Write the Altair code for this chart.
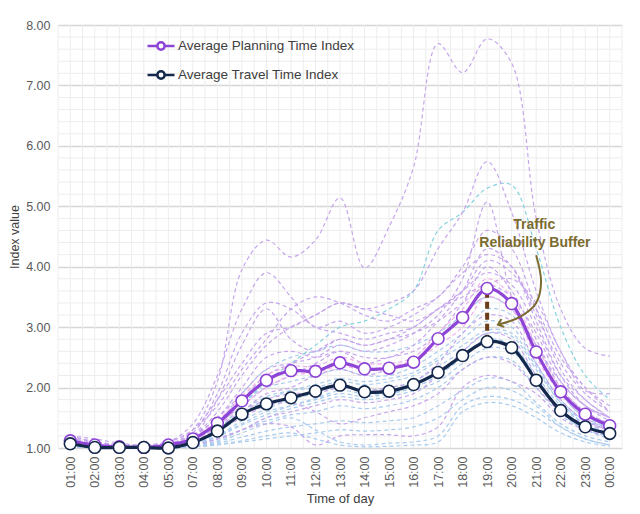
import json

import altair as alt
import pandas as pd

FONT = "Liberation Sans"

hours = ["01:00", "02:00", "03:00", "04:00", "05:00", "07:00", "08:00", "09:00",
         "10:00", "11:00", "12:00", "13:00", "14:00", "15:00", "16:00", "17:00",
         "18:00", "19:00", "20:00", "21:00", "22:00", "23:00", "00:00"]

planning_avg = [1.12, 1.05, 1.02, 1.01, 1.05, 1.15, 1.41, 1.78, 2.12, 2.28, 2.27, 2.41,
                2.31, 2.32, 2.42, 2.81, 3.16, 3.64, 3.39, 2.59, 1.93, 1.56, 1.37]
travel_avg = [1.07, 1.01, 1.01, 1.01, 1.00, 1.09, 1.28, 1.56, 1.73, 1.83, 1.94, 2.04,
              1.93, 1.94, 2.05, 2.25, 2.53, 2.76, 2.66, 2.12, 1.62, 1.35, 1.24]

# individual routes, planning time index (light purple dashes)
route_planning = [
    [1.15, 1.10, 1.05, 1.03, 1.05, 1.30, 2.10, 3.95, 4.44, 4.16, 4.44, 5.14, 3.98, 4.66, 5.65, 7.69, 7.21, 7.77, 7.37, 4.80, 3.30, 2.65, 2.52],
    [1.20, 1.10, 1.05, 1.05, 1.10, 1.30, 1.80, 2.40, 2.90, 3.00, 3.20, 3.40, 3.30, 3.40, 3.60, 4.30, 4.90, 5.74, 4.90, 3.60, 2.60, 2.00, 1.70],
    [1.10, 1.05, 1.02, 1.02, 1.05, 1.20, 1.50, 1.90, 2.30, 2.40, 2.50, 2.70, 2.60, 2.70, 2.90, 3.20, 3.80, 5.07, 3.50, 2.70, 2.10, 1.70, 1.50],
    [1.20, 1.10, 1.05, 1.03, 1.10, 1.40, 2.20, 3.30, 3.90, 3.50, 3.00, 3.10, 2.90, 3.00, 3.20, 3.50, 3.90, 4.20, 4.00, 3.20, 2.40, 1.90, 1.60],
    [1.10, 1.05, 1.02, 1.02, 1.05, 1.20, 1.80, 2.70, 3.30, 2.80, 2.60, 2.80, 2.70, 2.80, 3.00, 3.30, 3.60, 3.90, 3.70, 3.00, 2.20, 1.80, 1.50],
    [1.10, 1.05, 1.03, 1.02, 1.05, 1.20, 1.60, 2.20, 2.70, 3.00, 3.20, 3.40, 3.30, 3.20, 3.10, 3.30, 3.60, 4.10, 3.90, 3.30, 2.50, 2.00, 1.60],
    [1.05, 1.02, 1.01, 1.01, 1.02, 1.10, 1.30, 1.60, 1.90, 2.00, 2.20, 2.30, 2.20, 2.30, 2.40, 2.80, 3.20, 3.50, 3.30, 2.60, 1.90, 1.50, 1.30],
    [1.10, 1.05, 1.02, 1.01, 1.02, 1.05, 1.15, 1.30, 1.40, 1.35, 1.05, 1.20, 1.22, 1.22, 1.20, 1.35, 2.00, 2.20, 2.10, 1.90, 1.50, 1.30, 1.20],
    [1.15, 1.10, 1.05, 1.05, 1.08, 1.20, 1.40, 1.70, 2.00, 2.20, 2.40, 2.60, 2.50, 2.50, 2.70, 3.10, 3.60, 4.30, 4.00, 3.10, 2.20, 1.70, 1.45],
    [1.10, 1.08, 1.04, 1.03, 1.05, 1.15, 1.35, 1.60, 1.80, 1.90, 1.90, 2.00, 1.95, 2.00, 2.10, 2.40, 2.90, 3.20, 3.10, 2.40, 1.80, 1.45, 1.30],
    [1.20, 1.15, 1.08, 1.05, 1.10, 1.30, 1.70, 2.30, 2.80, 3.30, 3.50, 3.40, 3.20, 3.10, 3.30, 3.50, 4.00, 4.60, 4.30, 3.30, 2.30, 1.80, 1.50],
    [1.05, 1.03, 1.02, 1.01, 1.02, 1.05, 1.15, 1.30, 1.50, 1.60, 1.70, 1.80, 1.75, 1.80, 1.90, 2.20, 2.60, 2.90, 2.80, 2.20, 1.60, 1.35, 1.20],
    [1.10, 1.05, 1.02, 1.02, 1.04, 1.20, 1.50, 2.00, 2.50, 2.60, 2.50, 2.60, 2.40, 2.50, 2.60, 2.90, 3.40, 4.00, 3.60, 2.80, 2.00, 1.60, 1.40],
    [1.10, 1.05, 1.03, 1.02, 1.05, 1.12, 1.30, 1.50, 1.70, 1.75, 1.60, 1.40, 1.50, 1.60, 1.70, 1.90, 2.30, 2.50, 2.40, 2.00, 1.60, 1.40, 1.30],
    [1.15, 1.10, 1.05, 1.03, 1.06, 1.25, 1.90, 2.90, 3.40, 3.30, 3.00, 2.90, 2.80, 2.90, 3.00, 3.30, 3.50, 3.70, 3.50, 2.90, 2.10, 1.70, 1.50],
    [1.10, 1.05, 1.02, 1.02, 1.05, 1.15, 1.40, 1.80, 2.20, 2.40, 2.60, 2.80, 2.70, 2.80, 2.90, 3.10, 3.40, 3.70, 3.80, 3.40, 2.60, 1.95, 1.90],
]

# routes lying close to the average planning line (pink dashes)
route_pink = [
    [1.10, 1.05, 1.02, 1.01, 1.04, 1.12, 1.35, 1.70, 2.00, 2.20, 2.25, 2.35, 2.30, 2.35, 2.45, 2.70, 3.00, 3.50, 3.30, 2.50, 1.90, 1.55, 1.35],
    [1.12, 1.06, 1.03, 1.02, 1.05, 1.18, 1.45, 1.85, 2.20, 2.35, 2.35, 2.50, 2.40, 2.40, 2.50, 2.90, 3.30, 3.80, 3.50, 2.70, 2.00, 1.60, 1.40],
]

# individual routes, travel time index (light blue dashes)
route_travel = [
    [1.05, 1.02, 1.01, 1.01, 1.02, 1.06, 1.20, 1.40, 1.60, 1.70, 1.80, 1.90, 1.85, 1.90, 2.00, 2.20, 2.50, 2.80, 2.70, 2.20, 1.70, 1.40, 1.25],
    [1.03, 1.01, 1.00, 1.00, 1.01, 1.04, 1.15, 1.30, 1.45, 1.55, 1.60, 1.70, 1.65, 1.70, 1.80, 2.00, 2.30, 2.50, 2.45, 2.00, 1.55, 1.30, 1.15],
    [1.04, 1.02, 1.01, 1.00, 1.01, 1.05, 1.25, 1.55, 1.80, 1.95, 2.05, 2.15, 2.10, 2.15, 2.25, 2.50, 2.80, 3.10, 3.00, 2.40, 1.80, 1.45, 1.30],
    [1.02, 1.01, 1.00, 1.00, 1.00, 1.02, 1.08, 1.18, 1.28, 1.35, 1.40, 1.45, 1.42, 1.45, 1.50, 1.70, 1.95, 2.15, 2.10, 1.75, 1.40, 1.20, 1.10],
    [1.03, 1.02, 1.01, 1.00, 1.01, 1.03, 1.10, 1.25, 1.40, 1.50, 1.30, 1.10, 1.05, 1.08, 1.10, 1.20, 1.70, 1.85, 1.80, 1.60, 1.35, 1.15, 1.05],
    [1.05, 1.03, 1.02, 1.01, 1.02, 1.08, 1.35, 1.75, 2.00, 2.10, 2.20, 2.30, 2.20, 2.20, 2.35, 2.60, 2.90, 3.30, 3.20, 2.60, 1.90, 1.50, 1.35],
    [1.02, 1.01, 1.00, 1.00, 1.00, 1.02, 1.05, 1.10, 1.15, 1.20, 1.25, 1.30, 1.28, 1.30, 1.35, 1.50, 1.80, 2.00, 1.95, 1.70, 1.35, 1.15, 1.05],
    [1.04, 1.02, 1.01, 1.01, 1.02, 1.05, 1.20, 1.45, 1.65, 1.80, 1.90, 2.00, 1.95, 2.00, 2.10, 2.35, 2.60, 2.90, 2.85, 2.30, 1.75, 1.40, 1.25],
    [1.03, 1.02, 1.01, 1.00, 1.01, 1.04, 1.12, 1.30, 1.50, 1.65, 1.75, 1.85, 1.80, 1.85, 1.95, 2.10, 2.40, 2.65, 2.60, 2.10, 1.60, 1.30, 1.20],
    [1.05, 1.03, 1.02, 1.01, 1.02, 1.10, 1.40, 1.90, 2.30, 2.50, 2.60, 2.70, 2.60, 2.60, 2.70, 2.90, 3.20, 3.50, 3.30, 2.70, 2.00, 1.60, 1.40],
    [1.02, 1.01, 1.00, 1.00, 1.00, 1.02, 1.06, 1.12, 1.20, 1.25, 1.15, 1.05, 1.02, 1.03, 1.05, 1.10, 1.60, 1.75, 1.70, 1.50, 1.25, 1.10, 1.03],
    [1.04, 1.02, 1.01, 1.01, 1.01, 1.05, 1.18, 1.38, 1.55, 1.70, 1.82, 1.95, 1.90, 1.90, 2.00, 2.20, 2.50, 2.75, 2.70, 2.15, 1.65, 1.35, 1.20],
    [1.06, 1.04, 1.02, 1.01, 1.03, 1.10, 1.30, 1.60, 1.85, 1.95, 2.00, 2.10, 2.05, 2.10, 2.20, 2.45, 2.70, 2.95, 2.90, 2.35, 1.75, 1.45, 1.35],
]

# the one cyan route that peaks above 5
route_cyan = [
    [1.05, 1.03, 1.02, 1.01, 1.02, 1.08, 1.30, 1.70, 2.10, 2.40, 2.70, 3.00, 3.10, 3.30, 3.60, 4.60, 4.90, 5.30, 5.35, 4.30, 3.00, 2.20, 1.80],
]

plan_label = "Average Planning Time Index"
travel_label = "Average Travel Time Index"
note_lines = ["Traffic", "Reliability Buffer"]
note_x = [18.92, 18.95]
note_y = [4.69, 4.39]
arrow_x = [19.0, 19.2, 19.0, 18.34, 17.44]
arrow_y = [4.19, 3.75, 3.40, 3.17, 3.04]

PURPLE = "#8e44d6"
NAVY = "#14284b"
BROWN = "#6b3d18"
OLIVE = "#7b6b2f"


def to_long(lines, group):
    rows = []
    for n, vals in enumerate(lines):
        for i, v in enumerate(vals):
            rows.append({"idx": i, "value": v, "route": f"{group}{n}"})
    return pd.DataFrame(rows)


main = pd.DataFrame(
    [{"idx": i, "value": v, "series": plan_label} for i, v in enumerate(planning_avg)]
    + [{"idx": i, "value": v, "series": travel_label} for i, v in enumerate(travel_avg)]
)

x_scale = alt.Scale(domain=[-0.5, len(hours) - 0.5], nice=False, zero=False)
y_scale = alt.Scale(domain=[1, 8], nice=False, zero=False)
label_expr = json.dumps(hours) + "[datum.value]"

# every layer carries the same axis so the merged axes stay intact
x_axis = alt.Axis(values=list(range(len(hours))), labelExpr=label_expr, labelAngle=-90,
                  labelOverlap=False, grid=False, ticks=False, domain=False,
                  labelPadding=8, labelFontSize=12.5, labelColor="#595959",
                  titleFontSize=13, titleColor="#404040", titleFontWeight="normal",
                  titlePadding=5)
y_axis = alt.Axis(values=list(range(1, 9)), format=".2f", grid=True, gridColor="#d6d6d6",
                  gridWidth=1.5, ticks=False, domain=False, labelPadding=8,
                  labelFontSize=12.5, labelColor="#595959", titleFontSize=12.5,
                  titleColor="#404040", titleFontWeight="normal", titlePadding=4)


def xq(field):
    return alt.X(f"{field}:Q", scale=x_scale, axis=x_axis, title="Time of day")


def yq(field):
    return alt.Y(f"{field}:Q", scale=y_scale, axis=y_axis, title="Index value")


# light minor grid
minor_y = pd.DataFrame({"v": [round(1 + k * 0.2, 1) for k in range(36) if k % 5]})
minor_x = pd.DataFrame({"v": [k / 2 - 0.5 for k in range(2 * len(hours) + 1)]})
grid_h = alt.Chart(minor_y).mark_rule(color="#ededed", strokeWidth=1).encode(y=yq("v"))
grid_v = alt.Chart(minor_x).mark_rule(color="#ededed", strokeWidth=1).encode(x=xq("v"))


def route_layer(lines, group, color):
    return alt.Chart(to_long(lines, group)).mark_line(
        color=color, strokeWidth=1.2, strokeDash=[4, 3], interpolate="catmull-rom",
    ).encode(x=xq("idx"), y=yq("value"), detail="route:N")


color_scale = alt.Scale(domain=[plan_label, travel_label], range=[PURPLE, NAVY])
legend_symbol = ("M-1,0H-0.27M0.27,0H1M-0.27,0A0.27,0.27,0,1,1,0.27,0"
                 "A0.27,0.27,0,1,1,-0.27,0Z")

main_lines = alt.Chart(main).mark_line(strokeWidth=3.2, interpolate="catmull-rom").encode(
    x=xq("idx"), y=yq("value"),
    color=alt.Color("series:N", scale=color_scale, sort=[plan_label, travel_label],
                    legend=alt.Legend(title=None, orient="none", legendX=88, legendY=6,
                                      symbolType=legend_symbol, symbolSize=729,
                                      symbolStrokeWidth=2.5, symbolFillColor="white",
                                      labelFontSize=13.5, labelColor="#404040",
                                      labelLimit=400, labelOffset=2, rowPadding=5,
                                      padding=0)),
)
main_points = alt.Chart(main).mark_point(
    filled=True, fill="white", size=140, strokeWidth=1.6, opacity=1).encode(
    x=xq("idx"), y=yq("value"),
    stroke=alt.Stroke("series:N", scale=color_scale, legend=None),
)

peak = planning_avg.index(max(planning_avg))
buffer_df = pd.DataFrame({"idx": [peak], "lo": [travel_avg[peak]], "hi": [planning_avg[peak]]})
buffer_rule = alt.Chart(buffer_df).mark_rule(
    color=BROWN, strokeWidth=4, strokeDash=[7, 4]).encode(
    x=xq("idx"), y=yq("lo"), y2="hi:Q")

note_df = pd.DataFrame({"x": note_x, "y": note_y, "t": note_lines})
note = alt.Chart(note_df).mark_text(
    font=FONT, fontSize=14, fontWeight="bold", color=OLIVE).encode(
    x=xq("x"), y=yq("y"), text="t:N")

arrow_df = pd.DataFrame({"x": arrow_x, "y": arrow_y, "k": list(range(len(arrow_x)))})
arrow = alt.Chart(arrow_df).mark_line(
    color=OLIVE, strokeWidth=2, interpolate="catmull-rom").encode(
    x=xq("x"), y=yq("y"), order="k:Q")
head = alt.Chart(arrow_df.tail(1)).mark_point(
    shape="M-1,-0.8L0,0L-1,0.8", filled=False, size=110, strokeWidth=2,
    color=OLIVE, angle=160, opacity=1).encode(x=xq("x"), y=yq("y"))

chart = alt.layer(
    grid_h, grid_v,
    route_layer(route_travel, "t", "#a9cbee"),
    route_layer(route_cyan, "c", "#86d2de"),
    route_layer(route_planning, "p", "#c6a6ec"),
    route_layer(route_pink, "k", "#f1b0ea"),
    main_lines, buffer_rule, main_points, note, arrow, head,
).properties(
    width=564, height=423,
    autosize=alt.AutoSizeParams(type="none"),
    padding={"left": 50, "top": 17, "right": 10, "bottom": 60},
).configure(
    font=FONT,
).configure_view(strokeWidth=0)

chart.save("out.html", embed_options={"renderer": "svg", "actions": False})
